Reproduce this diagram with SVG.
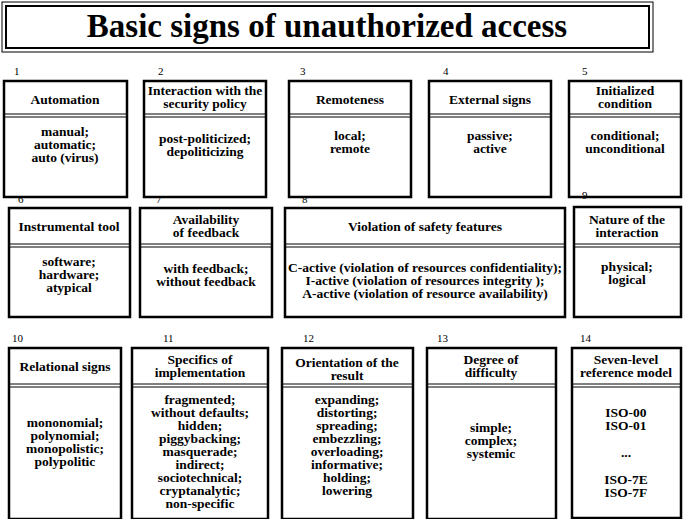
<svg xmlns="http://www.w3.org/2000/svg" width="685" height="519" viewBox="0 0 685 519">
<style>
.b{fill:#fff;stroke:#000;stroke-width:2.5}
.s{stroke:#000;stroke-width:1}
text{font-family:"Liberation Serif",serif;text-anchor:middle;fill:#000}
.h,.t{font-weight:bold;font-size:13.5px}
.n{font-size:11px;text-anchor:start}
.ti{font-weight:bold;font-size:33px}
</style>
<rect width="685" height="519" fill="#fff"/>
<g id="title">
<rect x="2" y="2" width="651" height="50" fill="#fff" stroke="#000" stroke-width="1"/>
<rect x="6" y="6" width="643" height="42" fill="none" stroke="#000" stroke-width="2"/>
<text class="ti" x="327" y="37">Basic signs of unauthorized access</text>
</g>
<g id="n1"><text class="n" x="14" y="75">1</text><rect class="b" x="4" y="81" width="123" height="116"/><line class="s" x1="4" y1="114" x2="127" y2="114"/><line class="s" x1="4" y1="117" x2="127" y2="117"/>
<text class="h" x="65" y="104">Automation</text>
<text class="t" x="65" y="136">manual;</text><text class="t" x="65" y="149">automatic;</text><text class="t" x="65" y="162">auto (virus)</text></g>
<g id="n2"><text class="n" x="158" y="75">2</text><rect class="b" x="144" y="81" width="122" height="116"/><line class="s" x1="144" y1="114" x2="266" y2="114"/><line class="s" x1="144" y1="117" x2="266" y2="117"/>
<text class="h" x="205" y="95">Interaction with the</text><text class="h" x="205" y="108">security policy</text>
<text class="t" x="205" y="143">post-politicized;</text><text class="t" x="205" y="156">depoliticizing</text></g>
<g id="n3"><text class="n" x="300" y="75">3</text><rect class="b" x="289" y="81" width="122" height="116"/><line class="s" x1="289" y1="114" x2="411" y2="114"/><line class="s" x1="289" y1="117" x2="411" y2="117"/>
<text class="h" x="350" y="104">Remoteness</text>
<text class="t" x="350" y="140">local;</text><text class="t" x="350" y="153">remote</text></g>
<g id="n4"><text class="n" x="443" y="75">4</text><rect class="b" x="429" y="81" width="122" height="116"/><line class="s" x1="429" y1="114" x2="551" y2="114"/><line class="s" x1="429" y1="117" x2="551" y2="117"/>
<text class="h" x="490" y="104">External signs</text>
<text class="t" x="490" y="140">passive;</text><text class="t" x="490" y="153">active</text></g>
<g id="n5"><text class="n" x="582" y="75">5</text><rect class="b" x="569" y="81" width="112" height="116"/><line class="s" x1="569" y1="114" x2="681" y2="114"/><line class="s" x1="569" y1="117" x2="681" y2="117"/>
<text class="h" x="625" y="95">Initialized</text><text class="h" x="625" y="108">condition</text>
<text class="t" x="625" y="140">conditional;</text><text class="t" x="625" y="153">unconditional</text></g>
<g id="n6"><text class="n" x="18" y="203">6</text><rect class="b" x="9" y="208" width="121" height="109"/><line class="s" x1="9" y1="244" x2="130" y2="244"/><line class="s" x1="9" y1="247" x2="130" y2="247"/>
<text class="h" x="69" y="231">Instrumental tool</text>
<text class="t" x="69" y="266">software;</text><text class="t" x="69" y="279">hardware;</text><text class="t" x="69" y="292">atypical</text></g>
<g id="n7"><text class="n" x="156" y="203">7</text><rect class="b" x="140" y="208" width="132" height="109"/><line class="s" x1="140" y1="244" x2="272" y2="244"/><line class="s" x1="140" y1="247" x2="272" y2="247"/>
<text class="h" x="206" y="224">Availability</text><text class="h" x="206" y="237">of feedback</text>
<text class="t" x="206" y="273">with feedback;</text><text class="t" x="206" y="286">without feedback</text></g>
<g id="n8"><text class="n" x="302" y="203">8</text><rect class="b" x="285" y="208" width="280" height="109"/><line class="s" x1="285" y1="244" x2="565" y2="244"/><line class="s" x1="285" y1="247" x2="565" y2="247"/>
<text class="h" x="425" y="231">Violation of safety features</text>
<text class="t" x="425" y="272">C-active (violation of resources confidentiality);</text><text class="t" x="425" y="285">I-active (violation of resources integrity );</text><text class="t" x="425" y="298">A-active (violation of resource availability)</text></g>
<g id="n9"><text class="n" x="582" y="199">9</text><rect class="b" x="574" y="207" width="107" height="110"/><line class="s" x1="574" y1="244" x2="681" y2="244"/><line class="s" x1="574" y1="247" x2="681" y2="247"/>
<text class="h" x="627" y="224">Nature of the</text><text class="h" x="627" y="237">interaction</text>
<text class="t" x="627" y="271">physical;</text><text class="t" x="627" y="284">logical</text></g>
<g id="n10"><text class="n" x="12" y="342">10</text><rect class="b" x="9" y="348" width="112" height="171"/><line class="s" x1="9" y1="384" x2="121" y2="384"/><line class="s" x1="9" y1="387" x2="121" y2="387"/>
<text class="h" x="65" y="371">Relational signs</text>
<text class="t" x="65" y="427">mononomial;</text><text class="t" x="65" y="440">polynomial;</text><text class="t" x="65" y="453">monopolistic;</text><text class="t" x="65" y="466">polypolitic</text></g>
<g id="n11"><text class="n" x="163" y="342">11</text><rect class="b" x="132" y="348" width="136" height="171"/><line class="s" x1="132" y1="384" x2="268" y2="384"/><line class="s" x1="132" y1="387" x2="268" y2="387"/>
<text class="h" x="200" y="364">Specifics of</text><text class="h" x="200" y="377">implementation</text>
<text class="t" x="200" y="404">fragmented;</text><text class="t" x="200" y="417">without defaults;</text><text class="t" x="200" y="430">hidden;</text><text class="t" x="200" y="443">piggybacking;</text><text class="t" x="200" y="456">masquerade;</text><text class="t" x="200" y="469">indirect;</text><text class="t" x="200" y="482">sociotechnical;</text><text class="t" x="200" y="495">cryptanalytic;</text><text class="t" x="200" y="508">non-specific</text></g>
<g id="n12"><text class="n" x="303" y="342">12</text><rect class="b" x="282" y="348" width="131" height="171"/><line class="s" x1="282" y1="384" x2="413" y2="384"/><line class="s" x1="282" y1="387" x2="413" y2="387"/>
<text class="h" x="347" y="367">Orientation of the</text><text class="h" x="347" y="380">result</text>
<text class="t" x="347" y="404">expanding;</text><text class="t" x="347" y="417">distorting;</text><text class="t" x="347" y="430">spreading;</text><text class="t" x="347" y="443">embezzling;</text><text class="t" x="347" y="456">overloading;</text><text class="t" x="347" y="469">informative;</text><text class="t" x="347" y="482">holding;</text><text class="t" x="347" y="495">lowering</text></g>
<g id="n13"><text class="n" x="437" y="342">13</text><rect class="b" x="427" y="348" width="129" height="171"/><line class="s" x1="427" y1="384" x2="556" y2="384"/><line class="s" x1="427" y1="387" x2="556" y2="387"/>
<text class="h" x="491" y="364">Degree of</text><text class="h" x="491" y="377">difficulty</text>
<text class="t" x="491" y="432">simple;</text><text class="t" x="491" y="445">complex;</text><text class="t" x="491" y="458">systemic</text></g>
<g id="n14"><text class="n" x="580" y="342">14</text><rect class="b" x="572" y="348" width="109" height="170"/><line class="s" x1="572" y1="384" x2="681" y2="384"/><line class="s" x1="572" y1="387" x2="681" y2="387"/>
<text class="h" x="626" y="364">Seven-level</text><text class="h" x="626" y="377">reference model</text>
<text class="t" x="626" y="417">ISO-00</text><text class="t" x="626" y="430">ISO-01</text><text class="t" x="626" y="457">...</text><text class="t" x="626" y="484">ISO-7E</text><text class="t" x="626" y="497">ISO-7F</text></g>
<g id="connectors"/>
</svg>
